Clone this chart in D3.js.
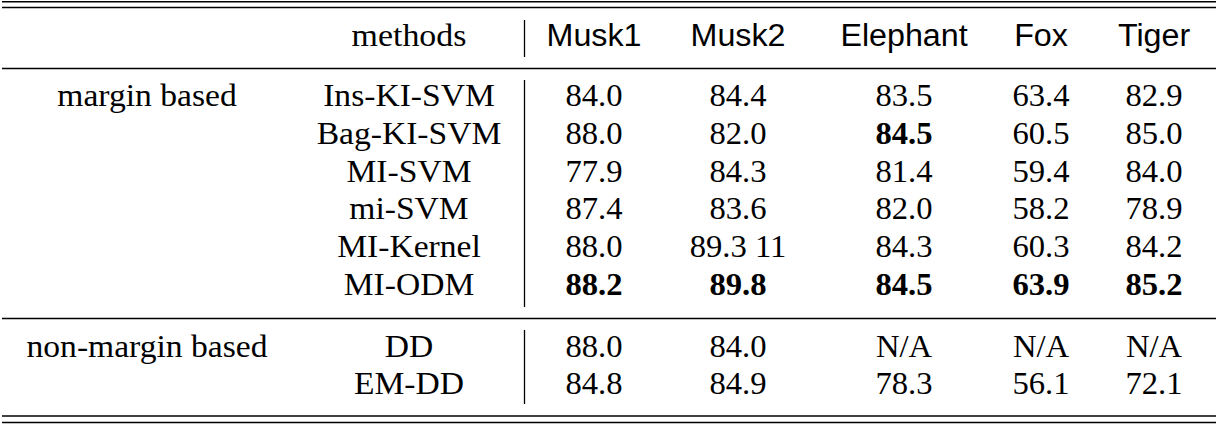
<!DOCTYPE html>
<html><head><meta charset="utf-8">
<script src="https://cdn.jsdelivr.net/npm/d3@7"></script>
<style>html,body{margin:0;padding:0;background:#fff;}svg{display:block;}</style>
</head><body>
<svg id="chart" width="1218" height="426"></svg>
<script>
const groups = ["margin based", "non-margin based"];
const groupRows = [0, 6];
const methods = ["Ins-KI-SVM","Bag-KI-SVM","MI-SVM","mi-SVM","MI-Kernel","MI-ODM","DD","EM-DD"];
const datasets = ["Musk1","Musk2","Elephant","Fox","Tiger"];
const musk1    = ["84.0","88.0","77.9","87.4","88.0","88.2","88.0","84.8"];
const musk2    = ["84.4","82.0","84.3","83.6","89.3 11","89.8","84.0","84.9"];
const elephant = ["83.5","84.5","81.4","82.0","84.3","84.5","N/A","78.3"];
const fox      = ["63.4","60.5","59.4","58.2","60.3","63.9","N/A","56.1"];
const tiger    = ["82.9","85.0","84.0","78.9","84.2","85.2","N/A","72.1"];
const boldCells = [[1,2],[5,0],[5,1],[5,2],[5,3],[5,4]];

const columns = [musk1, musk2, elephant, fox, tiger];
const svg = d3.select("#chart");
const serif = "'Liberation Serif','Times New Roman',Times,serif";
const sans = "'Liberation Sans',Arial,Helvetica,sans-serif";

const colX = d3.scaleOrdinal().domain(["group","method",...datasets]).range([147,409,594,738,904,1041,1154]);
const rowUpper = d3.scaleLinear().domain([0,5]).range([106,295]);
const rowLower = d3.scaleLinear().domain([6,7]).range([357,394]);
const rowY = i => i < 6 ? rowUpper(i) : rowLower(i);

function txt(x, y, s, font, size, weight, sx) {
  svg.append("text")
    .attr("transform", `translate(${x},${y}) scale(${sx},1)`)
    .attr("text-anchor","middle")
    .style("font-family", font).style("font-size", size+"px").style("font-weight", weight||"normal")
    .attr("fill","#000").text(s);
}

// rules
const hl = (y, w) => svg.append("line").attr("x1",2).attr("x2",1216).attr("y1",y).attr("y2",y)
  .attr("stroke","#000").attr("stroke-width",w||1.4);
hl(1.7); hl(7.5); hl(68.5); hl(318.5); hl(416); hl(422.5);
const vl = (y1,y2) => svg.append("line").attr("x1",524.5).attr("x2",524.5).attr("y1",y1).attr("y2",y2)
  .attr("stroke","#000").attr("stroke-width",1.3);
vl(20,57); vl(80,307); vl(330,404);

// header
txt(colX("method"), 46, "methods", serif, 32, "normal", 1.06);
datasets.forEach(d => txt(colX(d), 46, d, sans, 31, "normal", 1.04));

// groups
groups.forEach((g,i) => txt(colX("group"), rowY(groupRows[i]), g, serif, 32, "normal", 1.05));
// methods
methods.forEach((m,i) => txt(colX("method"), rowY(i), m, serif, 32, "normal", 1.05));
// values
columns.forEach((col, c) => col.forEach((v, r) => {
  const b = boldCells.some(([rr,cc]) => rr===r && cc===c);
  txt(colX(datasets[c]), rowY(r), v, serif, 32, b ? "bold" : "normal", 1.02);
}));
</script>
</body></html>
